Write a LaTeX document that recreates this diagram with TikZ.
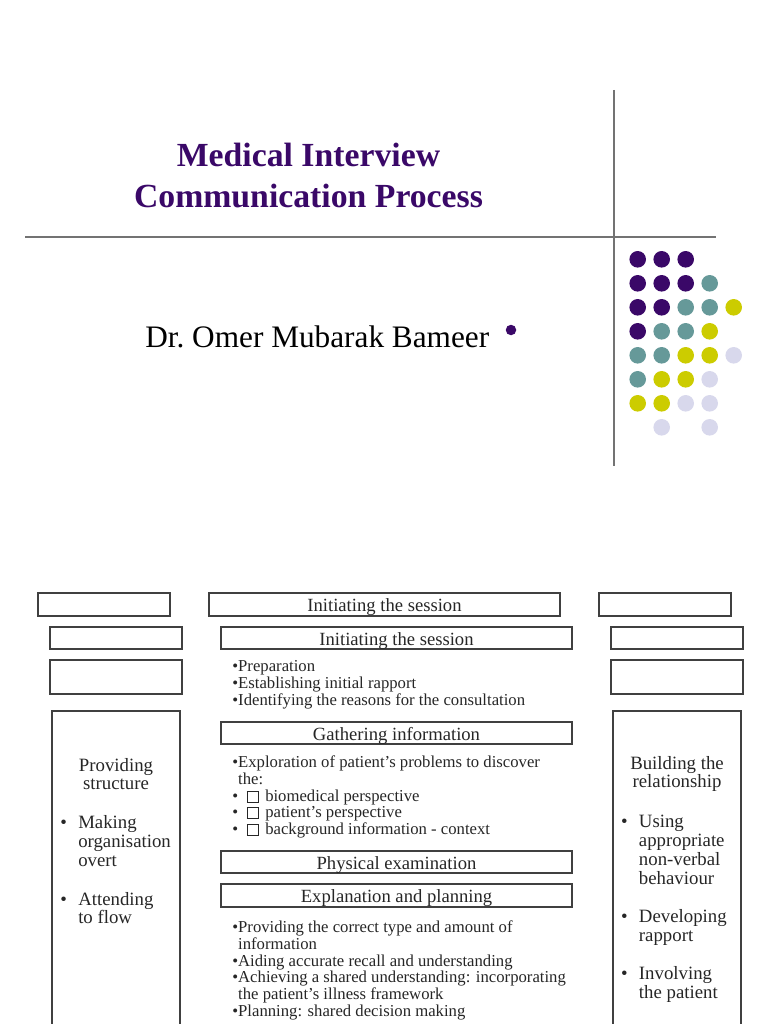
\documentclass[tikz,border=0pt]{standalone}
\usepackage{fontspec}
\setmainfont{Liberation Serif}
\definecolor{titlepurple}{RGB}{58,8,104}
\definecolor{dotP}{RGB}{58,8,104}
\definecolor{dotT}{RGB}{102,153,153}
\definecolor{dotY}{RGB}{204,204,0}
\definecolor{dotL}{RGB}{216,216,236}
\newcommand{\tickbox}{\raisebox{-0.2pt}{\setlength{\fboxsep}{0pt}\setlength{\fboxrule}{0.65pt}\fbox{\rule{0pt}{5.6pt}\hspace{5.6pt}}}}
\newcommand{\sbul}{\makebox[10.2pt][l]{\textbullet}}
\newcommand{\hang}{\phantom{\textbullet}}

\begin{document}
\begin{tikzpicture}[
    x=0.02cm, y=-0.02cm,
    sepline/.style={draw=black!55, line width=1.1pt},
    stagebox/.style={rectangle, draw=black!75, line width=1.1pt, minimum width=7.02cm, minimum height=0.45cm, inner sep=0pt, text height=8pt, text depth=0pt, text=black!85, font=\fontsize{10.6}{12}\selectfont},
    emptybox/.style={rectangle, draw=black!75, line width=1.1pt, minimum width=2.64cm, inner sep=0pt},
    sideframe/.style={draw=black!75, line width=1.1pt},
    listtext/.style={anchor=north west, inner sep=0pt, align=left, text=black!85, font=\fontsize{9.5}{9.55}\selectfont},
    sidetext/.style={inner sep=0pt, text=black!85, font=\fontsize{10.7}{10.7}\selectfont}
]
\useasboundingbox (0,0) rectangle (768,1024);

% Title slide
\node (title) [font=\fontsize{19.2}{23}\selectfont\bfseries, text=titlepurple, align=center] at (308.5,175.3) {Medical Interview\\Communication Process};
\node (author) [anchor=base west, inner sep=0pt, font=\fontsize{17.8}{20}\selectfont] at (145,347) {Dr.\ Omer Mubarak Bameer};
\fill [titlepurple] (511,330) circle (0.105cm);

\draw [sepline] (25,237) -- (716,237);
\draw [sepline] (614,90) -- (614,466);

% Dots
\foreach \c/\r/\col in {1/1/dotP,2/1/dotP,3/1/dotP,
    1/2/dotP,2/2/dotP,3/2/dotP,4/2/dotT,
    1/3/dotP,2/3/dotP,3/3/dotT,4/3/dotT,5/3/dotY,
    1/4/dotP,2/4/dotT,3/4/dotT,4/4/dotY,
    1/5/dotT,2/5/dotT,3/5/dotY,4/5/dotY,5/5/dotL,
    1/6/dotT,2/6/dotY,3/6/dotY,4/6/dotL,
    1/7/dotY,2/7/dotY,3/7/dotL,4/7/dotL,
    2/8/dotL,4/8/dotL}
  \fill [\col] ({613.7+24*\c},{235.3+24*\r}) circle (0.166cm);

% Framework boxes
\node (ltop) [emptybox, minimum height=0.46cm] at (104,604.5) {};
\node (initA) [stagebox] at (384.5,604.5) {Initiating the session};
\node (rtop) [emptybox, minimum height=0.46cm] at (665,604.5) {};

\node (lmid) [emptybox, minimum height=0.45cm] at (116,638) {};
\node (initB) [stagebox] at (396.5,638) {Initiating the session};
\node (rmid) [emptybox, minimum height=0.45cm] at (677,638) {};

\node (llow) [emptybox, minimum height=0.68cm] at (116,677) {};
\node (rlow) [emptybox, minimum height=0.68cm] at (677,677) {};

\node (gather) [stagebox] at (396.5,733) {Gathering information};
\node (exam) [stagebox] at (396.5,862) {Physical examination};
\node (explain) [stagebox] at (396.5,895.5) {Explanation and planning};

\draw [sideframe] (52,1024) |- (180,711) -- (180,1024);
\draw [sideframe] (613,1024) |- (741,711) -- (741,1024);

% Texts
\node (prep) [listtext] at (232,660.5) {\textbullet Preparation\\
  \textbullet Establishing initial rapport\\
  \textbullet Identifying the reasons for the consultation};

\node (explore) [listtext] at (232,755.5) {\textbullet Exploration of patient's problems to discover\\
  \hang the:\\
  \textbullet\hspace{5pt}\tickbox\hspace{3.5pt}biomedical perspective\\
  \textbullet\hspace{5pt}\tickbox\hspace{3.5pt}patient's perspective\\
  \textbullet\hspace{5pt}\tickbox\hspace{3.5pt}background information - context};

\node (plan) [listtext] at (232,920.5) {\textbullet Providing the correct type and amount of\\
  \hang information\\
  \textbullet Aiding accurate recall and understanding\\
  \textbullet Achieving a shared understanding: incorporating\\
  \hang the patient's illness framework\\
  \textbullet Planning: shared decision making};

\node (structure) [sidetext, align=center] at (116,774) {Providing\\structure};
\node (structlist) [sidetext, anchor=north west, align=left] at (60,815) {\sbul Making\\
  \hspace{10.2pt}organisation\\
  \hspace{10.2pt}overt\\[11.5pt]
  \sbul Attending\\
  \hspace{10.2pt}to flow};

\node (relation) [sidetext, align=center] at (677,774) {Building the\\relationship};
\node (rellist) [sidetext, anchor=north west, align=left] at (620.7,815) {\sbul Using\\
  \hspace{10.2pt}appropriate\\
  \hspace{10.2pt}non-verbal\\
  \hspace{10.2pt}behaviour\\[11pt]
  \sbul Developing\\
  \hspace{10.2pt}rapport\\[11pt]
  \sbul Involving\\
  \hspace{10.2pt}the patient};

\end{tikzpicture}
\end{document}
